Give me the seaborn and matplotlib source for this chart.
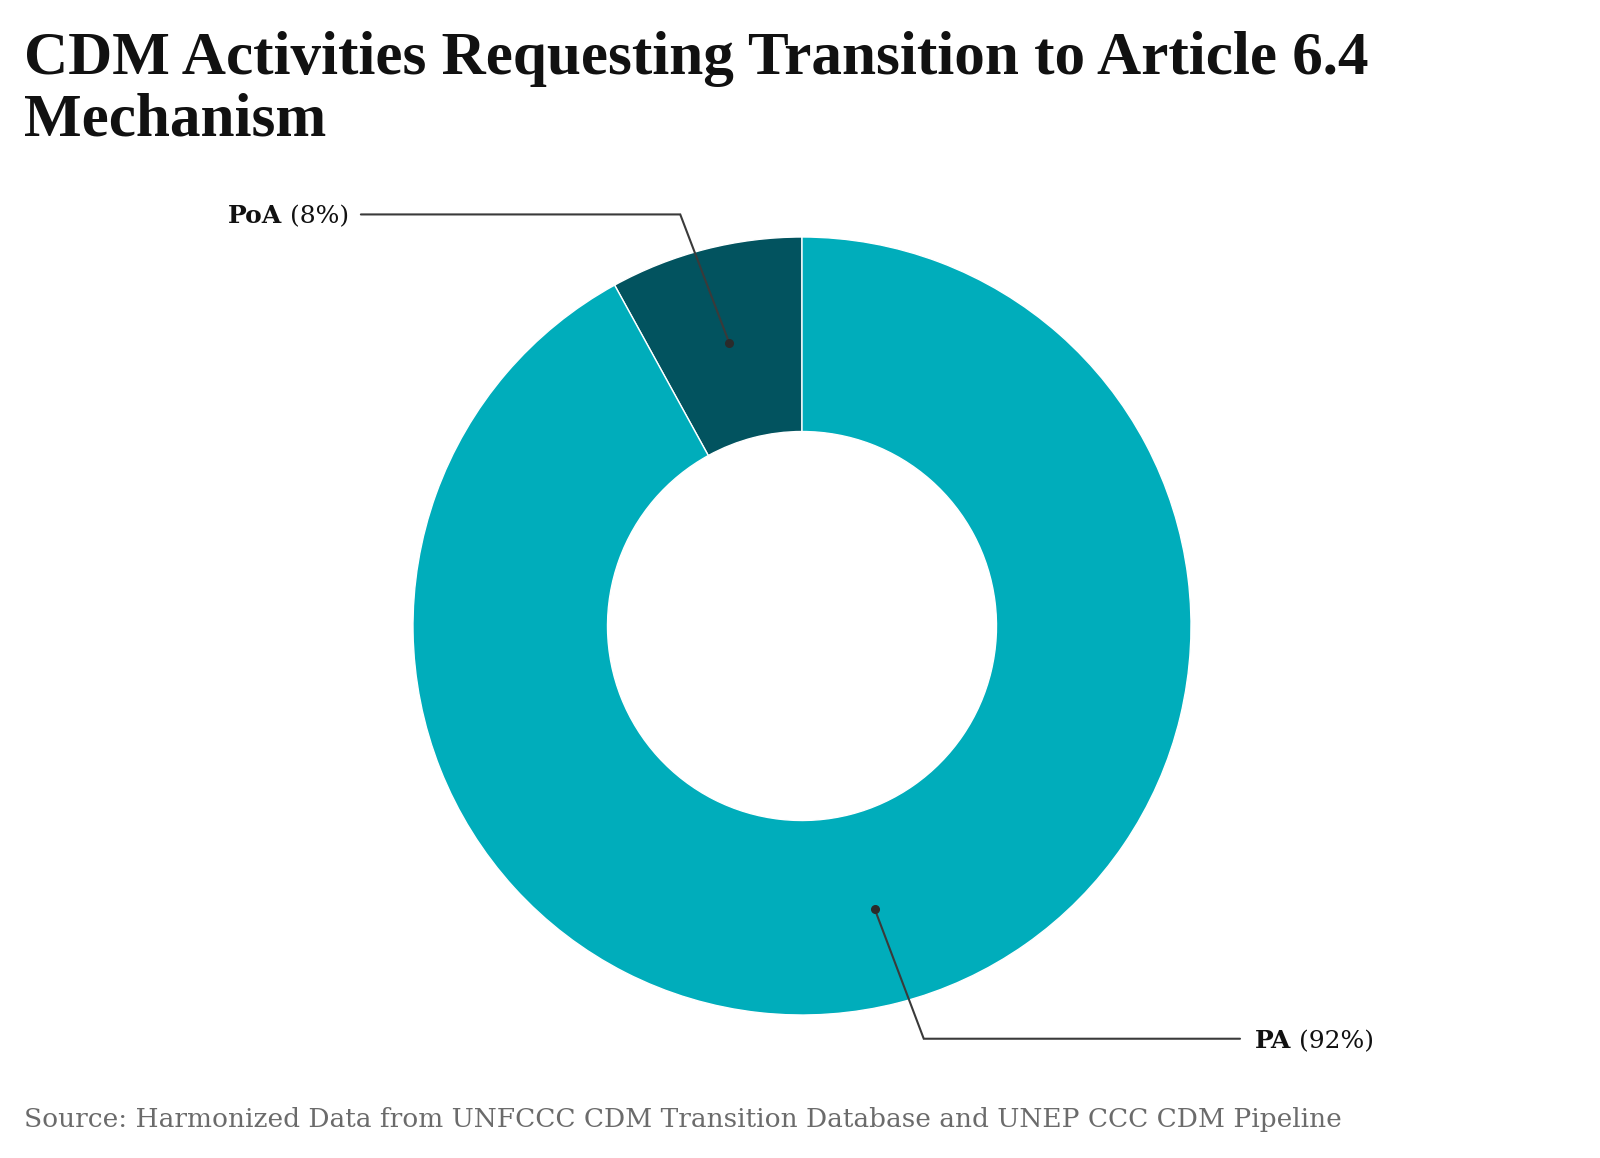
import numpy as np
import matplotlib
matplotlib.use("Agg")
import matplotlib.pyplot as plt
import seaborn as sns

# dati
categorie = ["PoA", "PA"]
percentuali = [8, 92]
colori = ["#02535F", "#00ADBB"]

titolo_righe = ["CDM Activities Requesting Transition to Article 6.4", "Mechanism"]
fonte = "Source: Harmonized Data from UNFCCC CDM Transition Database and UNEP CCC CDM Pipeline"

sns.set_theme(style="white")
plt.rcParams["font.family"] = ["DejaVu Serif", "Liberation Serif"]

W, H = 1600, 1158
fig = plt.figure(figsize=(W / 100, H / 100), dpi=100)
fig.patch.set_facecolor("white")

# asse centrato sulla ciambella
cx, cy, r = 802, 626, 389
ax = fig.add_axes([(cx - r) / W, (H - cy - r) / H, 2 * r / W, 2 * r / H])

wedges, _ = ax.pie(percentuali, colors=colori, startangle=90, counterclock=True,
                   radius=1, wedgeprops=dict(width=0.5, edgecolor="white", linewidth=1))
ax.set_xlim(-1, 1)
ax.set_ylim(-1, 1)
ax.set_aspect("equal")
ax.axis("off")

# linee guida delle etichette: (gomito, fine linea, x testo, allineamento)
guide = [
    ((-0.313, 1.058), (-1.134, 1.058), -1.163, "right"),
    ((0.313, -1.061), (1.126, -1.061), 1.163, "left"),
]

fs_etichetta = 18
for w, cat, p, (gomito, fine, x_testo, ha) in zip(wedges, categorie, percentuali, guide):
    ang = np.deg2rad((w.theta1 + w.theta2) / 2)
    px, py = 0.75 * np.cos(ang), 0.75 * np.sin(ang)
    ax.plot([px, gomito[0], fine[0]], [py, gomito[1], fine[1]],
            color="#3a3a3a", lw=1.5, clip_on=False, solid_joinstyle="miter")
    ax.plot(px, py, "o", color="#2b2b2b", ms=5.5, clip_on=False)
    y_t = fine[1]
    if ha == "right":
        t = ax.text(x_testo, y_t, f" ({p}%)", ha="right", va="center_baseline",
                    fontsize=fs_etichetta, color="#111111", clip_on=False)
        fig.canvas.draw()
        bb = t.get_window_extent()
        ax.annotate(cat, xy=(bb.x0, 0), xycoords=("figure pixels", t),
                    ha="right", va="bottom", fontsize=fs_etichetta, fontweight="bold", color="#111111")
    else:
        t = ax.text(x_testo, y_t, cat, ha="left", va="center_baseline",
                    fontsize=fs_etichetta, fontweight="bold", color="#111111", clip_on=False)
        fig.canvas.draw()
        bb = t.get_window_extent()
        ax.annotate(f" ({p}%)", xy=(bb.x1, 0), xycoords=("figure pixels", t),
                    ha="left", va="bottom", fontsize=fs_etichetta, color="#111111")

# titolo su due righe (linee di base)
for riga, y_base in zip(titolo_righe, [74, 135]):
    fig.text(24 / W, 1 - y_base / H, riga, ha="left", va="baseline", fontsize=44,
             fontweight="bold", color="#111111", family=["Liberation Serif", "DejaVu Serif"])
fig.text(24 / W, 1 - 1120 / H, fonte, ha="left", va="center", fontsize=19, color="#6b6b6b")

fig.savefig("out.png", dpi=100, facecolor="white")
